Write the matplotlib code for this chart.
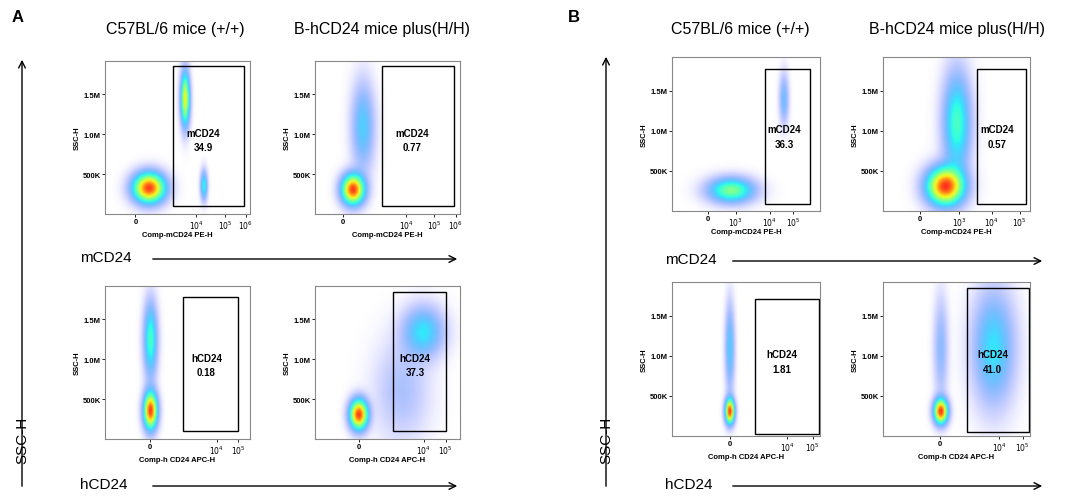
import numpy as np
import matplotlib
matplotlib.use("Agg")
import matplotlib.pyplot as plt
from matplotlib.patches import Rectangle

W, H = 1080, 502
fig = plt.figure(figsize=(W/100, H/100), dpi=100)
plt.rcParams['font.family'] = ['Liberation Sans', 'DejaVu Sans']

def ax_px(x0, y0, x1, y1):
    return fig.add_axes([x0/W, 1-y1/H, (x1-x0)/W, (y1-y0)/H])

panel_boxes = [(105, 62, 250, 215), (315, 62, 460, 215), (105, 287, 250, 440), (315, 287, 460, 440),
               (672, 58, 820, 212), (883, 58, 1030, 212), (672, 283, 820, 437), (883, 283, 1030, 437)]
xtick_pos = [[2.1, 6.3, 8.3, 9.7], [1.9, 6.3, 8.2, 9.7], [3.1, 7.7, 9.2], [3.0, 7.5, 9.0],
             [2.4, 4.3, 6.6, 8.2], [2.5, 5.2, 7.4, 9.3], [3.9, 7.8, 9.5], [3.9, 7.9, 9.5]]
xtick_lab = [["0", "$10^4$", "$10^5$", "$10^6$"], ["0", "$10^4$", "$10^5$", "$10^6$"],
             ["0", "$10^4$", "$10^5$"], ["0", "$10^4$", "$10^5$"],
             ["0", "$10^3$", "$10^4$", "$10^5$"], ["0", "$10^3$", "$10^4$", "$10^5$"],
             ["0", "$10^4$", "$10^5$"], ["0", "$10^4$", "$10^5$"]]
xlabels = ["Comp-mCD24 PE-H"]*2 + ["Comp-h CD24 APC-H"]*2 + ["Comp-mCD24 PE-H"]*2 + ["Comp-h CD24 APC-H"]*2
gates = [(4.7, 9.6, 0.1, 1.86), (4.6, 9.6, 0.1, 1.86), (5.4, 9.2, 0.1, 1.78), (5.4, 9.0, 0.1, 1.85),
         (6.3, 9.3, 0.09, 1.77), (6.4, 9.7, 0.09, 1.77), (5.6, 9.9, 0.02, 1.71), (5.7, 9.9, 0.05, 1.85)]
gate_names = ["mCD24", "mCD24", "hCD24", "hCD24", "mCD24", "mCD24", "hCD24", "hCD24"]
gate_vals = ["34.9", "0.77", "0.18", "37.3", "36.3", "0.57", "1.81", "41.0"]
# clusters: (x, y, sx, sy, weight)
clusters = [
    [(3.0, 0.32, 0.7, 0.12, 1.0), (5.5, 1.45, 0.2, 0.22, 0.7), (6.8, 0.35, 0.15, 0.12, 0.35)],
    [(2.6, 0.3, 0.5, 0.12, 1.0), (3.3, 1.1, 0.5, 0.35, 0.25)],
    [(3.1, 0.35, 0.3, 0.15, 1.0), (3.1, 1.25, 0.3, 0.3, 0.4)],
    [(3.0, 0.3, 0.4, 0.12, 1.0), (7.5, 1.35, 0.9, 0.2, 0.3), (6.0, 0.6, 1.2, 0.4, 0.1)],
    [(4.0, 0.25, 1.0, 0.1, 0.5), (7.6, 1.4, 0.2, 0.2, 0.2)],
    [(4.2, 0.3, 0.8, 0.15, 1.0), (5.0, 1.1, 0.6, 0.4, 0.4)],
    [(3.9, 0.3, 0.2, 0.1, 1.0), (3.9, 1.1, 0.2, 0.35, 0.25)],
    [(3.9, 0.3, 0.3, 0.1, 1.0), (7.5, 1.1, 0.9, 0.45, 0.3), (3.9, 1.1, 0.3, 0.4, 0.15)],
]

YMAX = 1.92
gx = np.linspace(0, 10, 90)
gy = np.linspace(0, YMAX, 90)
GX, GY = np.meshgrid(gx, gy)
cmap = plt.get_cmap('jet')

for i, box in enumerate(panel_boxes):
    ax = ax_px(*box)
    D = np.zeros_like(GX)
    for (cx, cy, sx, sy, w) in clusters[i]:
        D += w * np.exp(-0.5*(((GX-cx)/sx)**2 + ((GY-cy)/sy)**2))
    rgba = cmap(np.clip(0.12 + D*0.75, 0, 1))
    rgba[..., 3] = np.clip(D/0.35, 0, 1)**0.8 * 0.9
    ax.imshow(rgba, extent=(0, 10, 0, YMAX), origin='lower', aspect='auto', interpolation='bilinear')
    g = gates[i]
    ax.add_patch(Rectangle((g[0], g[2]), g[1]-g[0], g[3]-g[2], fill=False, lw=1.0, ec='black'))
    cxg = g[0] + (g[1]-g[0])*0.42
    ax.text(cxg, 1.02, gate_names[i], ha='center', va='center', fontsize=7, fontweight='bold')
    ax.text(cxg, 0.84, gate_vals[i], ha='center', va='center', fontsize=7, fontweight='bold')
    ax.set_xlim(0, 10); ax.set_ylim(0, YMAX)
    ax.set_xticks(xtick_pos[i]); ax.set_xticklabels(xtick_lab[i], fontsize=5.5, fontweight='bold')
    ax.set_yticks([0.5, 1.0, 1.5]); ax.set_yticklabels(["500K", "1.0M", "1.5M"], fontsize=5.5, fontweight='bold')
    ax.set_xlabel(xlabels[i], fontsize=5.5, fontweight='bold', labelpad=0)
    ax.set_ylabel("SSC-H", fontsize=5.5, fontweight='bold', labelpad=1)
    ax.tick_params(length=2, width=0.6, pad=1)
    for s in ax.spines.values():
        s.set_color('#888888'); s.set_linewidth(0.8)

def ftext(x, y, s, **kw):
    fig.text(x/W, 1-y/H, s, **kw)

def farrow(x0, y0, x1, y1):
    fig.add_artist(matplotlib.patches.FancyArrowPatch((x0/W, 1-y0/H), (x1/W, 1-y1/H),
                   transform=fig.transFigure, arrowstyle='->', mutation_scale=12, lw=1.0, color='black'))

ftext(12, 18, "A", fontsize=12, fontweight='bold', va='center')
ftext(568, 18, "B", fontsize=12, fontweight='bold', va='center')
for (cx, t) in [(175, "C57BL/6 mice (+/+)"), (382, "B-hCD24 mice plus(H/H)"),
                (740, "C57BL/6 mice (+/+)"), (957, "B-hCD24 mice plus(H/H)")]:
    ftext(cx, 30, t, fontsize=11.5, ha='center', va='center')

farrow(22, 490, 22, 58)
ftext(22, 440, "SSC-H", fontsize=11, rotation=90, ha='center', va='center')
farrow(606, 490, 606, 55)
ftext(606, 440, "SSC-H", fontsize=11, rotation=90, ha='center', va='center')
for (x0, x1, y, t, tx) in [(150, 460, 260, "mCD24", 70), (150, 460, 487, "hCD24", 70),
                            (730, 1045, 262, "mCD24", 655), (730, 1045, 487, "hCD24", 655)]:
    farrow(x0, y, x1, y)
    ftext(tx + 10, y - 2, t, fontsize=11, va='center')

fig.savefig("out.png", dpi=100)
